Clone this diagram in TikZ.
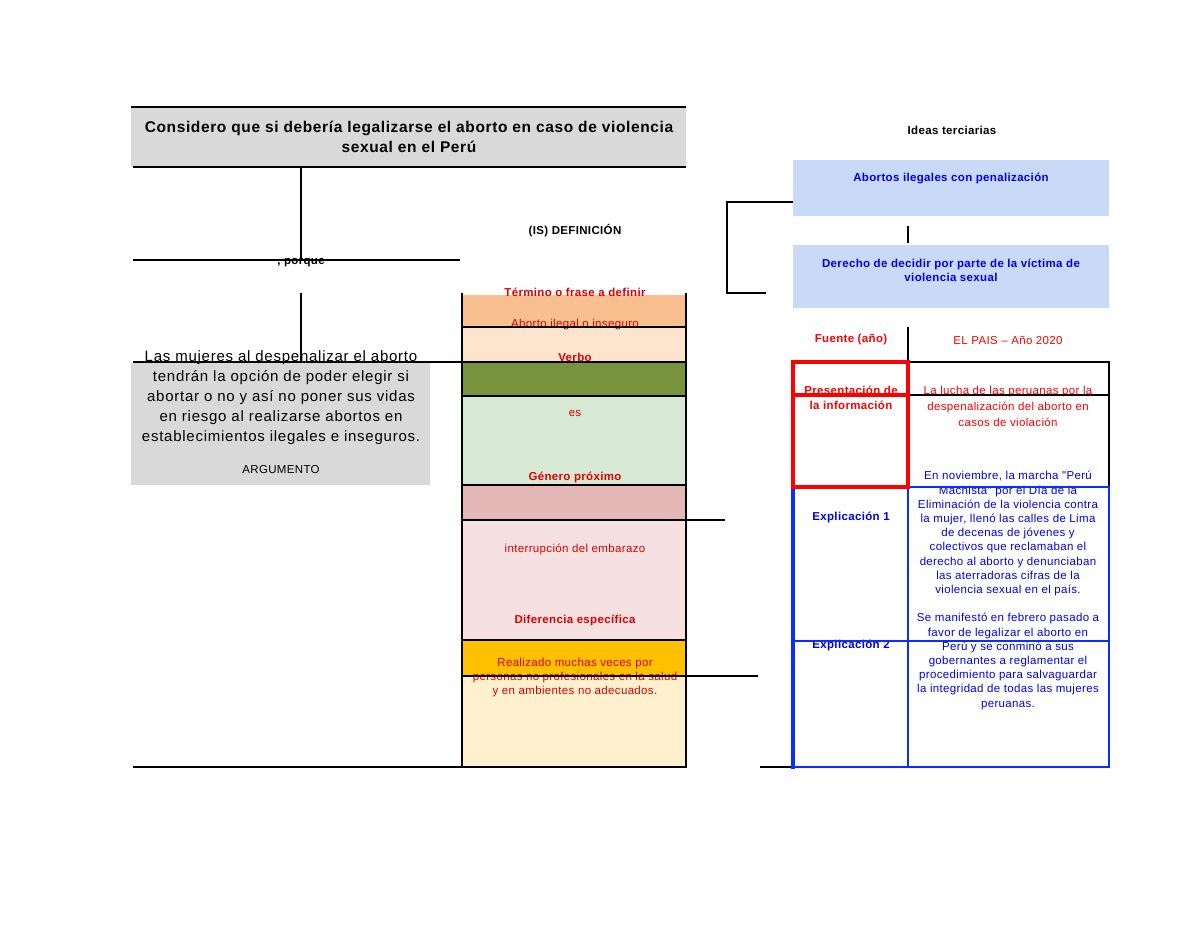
\documentclass[tikz,border=0pt]{standalone}
\usepackage{fontspec}
\setmainfont{Liberation Sans}
\newfontfamily\xls[LetterSpace=3]{Liberation Sans}
\newfontfamily\xlb[LetterSpace=5]{Liberation Sans}
\newfontfamily\xlt[LetterSpace=4]{Liberation Sans}
\definecolor{tgray}{HTML}{D9D9D9}
\definecolor{peach}{HTML}{F9BF8F}
\definecolor{lpeach}{HTML}{FCE4CD}
\definecolor{olive}{HTML}{77933C}
\definecolor{lgreen}{HTML}{D7E8D4}
\definecolor{rose}{HTML}{E5B8B7}
\definecolor{lpink}{HTML}{F5E1E1}
\definecolor{gold}{HTML}{FFC000}
\definecolor{lyellow}{HTML}{FFF1CD}
\definecolor{lblue}{HTML}{C9DAF8}
\definecolor{txtred}{HTML}{E00000}
\definecolor{brightred}{HTML}{FF0000}
\definecolor{txtblue}{HTML}{0000EE}
\definecolor{lineblue}{HTML}{0A2EFF}
\begin{document}
\begin{tikzpicture}[x=1pt,y=-1pt,
  lbl/.style={font=\xls\fontsize{11.5}{14}\selectfont, align=center, inner sep=0pt},
  lblb/.style={font=\xls\fontsize{11.5}{14}\selectfont\bfseries, align=center, inner sep=0pt},
  bigtxt/.style={font=\xlb\fontsize{15}{20}\selectfont, align=center, inner sep=0pt},
  rtxt/.style={lbl, text=txtred},
  rtxtb/.style={lblb, text=txtred},
  btxt/.style={lbl, text=txtblue},
  btxtb/.style={lblb, text=txtblue},
  blk/.style={line width=2.3pt, black},
  col/.style={line width=1.8pt, black},
  redbox/.style={line width=3.5pt, brightred},
  bluebox/.style={line width=2.5pt, lineblue},
  bluethick/.style={line width=4pt, lineblue}]
\useasboundingbox (0,0) rectangle (1200,927);
% ---------- fills ----------
\fill[tgray] (131,107) rectangle (686,167);
\fill[tgray] (131,363) rectangle (430,485);
\fill[peach] (462,295) rectangle (686,327);
\fill[lpeach] (462,327) rectangle (686,362);
\fill[olive] (462,362) rectangle (686,396);
\fill[lgreen] (462,396) rectangle (686,485);
\fill[rose] (462,485) rectangle (686,520);
\fill[lpink] (462,520) rectangle (686,640);
\fill[gold] (462,640) rectangle (686,676);
\fill[lyellow] (462,676) rectangle (686,767);
\fill[lblue] (793,160) rectangle (1109,216);
\fill[lblue] (793,245) rectangle (1109,308);
% ---------- texts ----------
\node[bigtxt, font=\xlt\fontsize{15.5}{20}\selectfont\bfseries] (title) at (409,137)
  {Considero que si debería legalizarse el aborto en caso de violencia\\sexual en el Perú};
\node[lblb] (porque) at (301,263) {, porque};
\node[bigtxt] (arg) at (281,398)
  {Las mujeres al despenalizar el aborto\\tendrán la opción de poder elegir si\\abortar o no y así no poner sus vidas\\en riesgo al realizarse abortos en\\establecimientos ilegales e inseguros.};
\node[lbl] (argumento) at (281,470) {ARGUMENTO};
\node[lblb] (defin) at (575,231) {(IS) DEFINICIÓN};
\node[rtxtb] (termino) at (575,292) {Término o frase a definir};
\node[rtxt] (aborto) at (575,325) {Aborto ilegal o inseguro};
\node[rtxtb] (verbo) at (575,357) {Verbo};
\node[rtxt] (es) at (575,413) {es};
\node[rtxtb] (genero) at (575,477) {Género próximo};
\node[rtxt] (interrup) at (575,549) {interrupción del embarazo};
\node[rtxtb] (difer) at (575,620) {Diferencia específica};
\node[rtxt] (realizado) at (575,678) {Realizado muchas veces por\\personas no profesionales en la salud\\y en ambientes no adecuados.};
\node[lblb] (ideas) at (952,130) {Ideas terciarias};
\node[btxtb] (abortos) at (951,178) {Abortos ilegales con penalización};
\node[btxtb] (derecho) at (951,270) {Derecho de decidir por parte de la víctima de\\violencia sexual};
\node[lblb, text=brightred] (fuente) at (851,340) {Fuente (año)};
\node[lbl, text=brightred] (elpais) at (1008,340) {EL PAIS – Año 2020};
\node[lblb, text=brightred, font=\xls\fontsize{11.5}{15}\selectfont\bfseries] (present) at (851,398) {Presentación de\\la información};
\node[lbl, text=brightred, font=\xls\fontsize{11.5}{16}\selectfont] (lucha) at (1008,406) {La lucha de las peruanas por la\\despenalización del aborto en\\casos de violación};
\node[btxtb] (expl1) at (851,517) {Explicación 1};
\node[btxtb] (expl2) at (851,645) {Explicación 2};
\node[btxt, font=\xls\fontsize{11.5}{14.2}\selectfont] (explic) at (1008,590.5)
  {En noviembre, la marcha "Perú\\Machista" por el Día de la\\Eliminación de la violencia contra\\la mujer, llenó las calles de Lima\\de decenas de jóvenes y\\colectivos que reclamaban el\\derecho al aborto y denunciaban\\las aterradoras cifras de la\\violencia sexual en el país.\\[14.2pt]Se manifestó en febrero pasado a\\favor de legalizar el aborto en\\Perú y se conminó a sus\\gobernantes a reglamentar el\\procedimiento para salvaguardar\\la integridad de todas las mujeres\\peruanas.};
% ---------- lines ----------
\draw[blk] (131,107) -- (686,107);
\draw[blk] (133,167) -- (686,167);
\draw[blk] (301,167) -- (301,260);
\draw[blk] (133,260) -- (460,260);
\draw[blk] (301,293) -- (301,362);
\draw[blk] (133,362) -- (462,362);
\draw[blk] (133,767) -- (462,767);
% center column
\draw[col] (462,293) -- (462,768);
\draw[col] (686,293) -- (686,768);
\foreach \yy in {327,362,396,485,640} \draw[col] (462,\yy) -- (686,\yy);
\draw[col] (462,520) -- (725,520);
\draw[col] (462,676) -- (758,676);
\draw[col] (462,767) -- (686,767);
\draw[col] (760,767) -- (793,767);
% right bracket
\coordinate (brtop) at (793,202);
\coordinate (brend) at (766,293);
\draw[col] (brtop) -| (727,293) -- (brend);
\draw[col] (908,226) -- (908,243);
\draw[col] (908,327) -- (908,362);
\draw[col] (908,362) -- (1109,362) -- (1109,487);
\draw[col] (908,395) -- (1109,395);
% blue box
\draw[bluebox] (908,487) -- (1109,487) -- (1109,767) -- (793,767);
\draw[bluebox] (908,487) -- (908,767);
\draw[bluebox] (793,641) -- (1109,641);
\draw[bluethick] (793,487) -- (793,769);
% red box
\draw[redbox] (793,362) rectangle (908,487);
\draw[redbox] (793,395) -- (908,395);
\end{tikzpicture}
\end{document}
